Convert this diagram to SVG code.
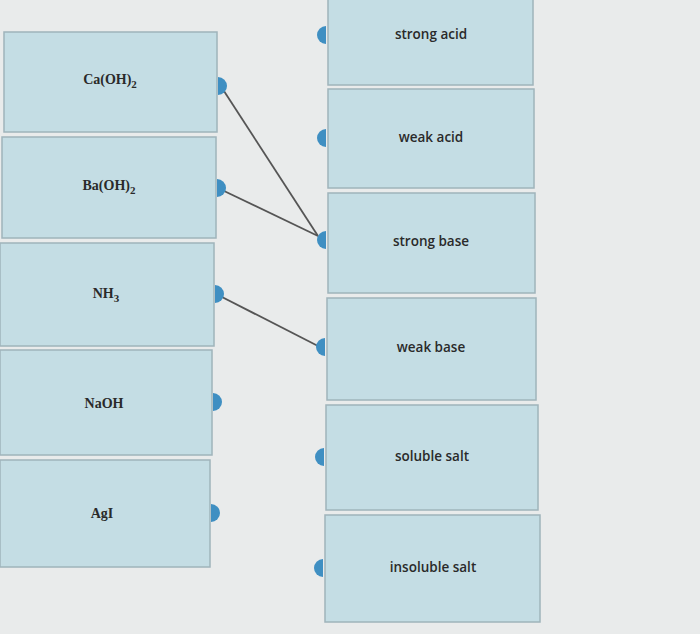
<svg xmlns="http://www.w3.org/2000/svg" width="700" height="634" viewBox="0 0 700 634">
<style>
.b{fill:#c4dde4;stroke:#9fb4bb;stroke-width:1.5}
.t{font-family:"Liberation Serif",serif;font-size:14px;fill:#2a2a2a;text-anchor:middle;font-weight:bold}
.r{font-family:"Open Sans","Liberation Sans",sans-serif;font-size:13.5px;fill:#2a2a2a;text-anchor:middle;font-weight:600}
.k{fill:#3f8fc2}
</style>
<rect width="700" height="634" fill="#e9ebeb"/>
<g id="connectors" stroke="#555" stroke-width="1.8" fill="none">
<line x1="222" y1="88" x2="318" y2="236"/>
<line x1="222" y1="190" x2="318" y2="236"/>
<line x1="220" y1="296" x2="318" y2="346"/>
</g>
<g id="l1"><rect class="b" x="4" y="32" width="213" height="100"/><text class="t" x="110" y="84">Ca(OH)<tspan font-size="11" dy="4">2</tspan></text><path class="k" d="M218,77 a9,9 0 0 1 0,18z"/></g>
<g id="l2"><rect class="b" x="2" y="137" width="214" height="101"/><text class="t" x="109" y="190">Ba(OH)<tspan font-size="11" dy="4">2</tspan></text><path class="k" d="M217,179 a9,9 0 0 1 0,18z"/></g>
<g id="l3"><rect class="b" x="0" y="243" width="214" height="103"/><text class="t" x="106" y="298">NH<tspan font-size="11" dy="4">3</tspan></text><path class="k" d="M215,285 a9,9 0 0 1 0,18z"/></g>
<g id="l4"><rect class="b" x="0" y="350" width="212" height="105"/><text class="t" x="104" y="408">NaOH</text><path class="k" d="M213,393 a9,9 0 0 1 0,18z"/></g>
<g id="l5"><rect class="b" x="0" y="460" width="210" height="107"/><text class="t" x="102" y="518">AgI</text><path class="k" d="M211,504 a9,9 0 0 1 0,18z"/></g>
<g id="r1"><rect class="b" x="328" y="-2" width="205" height="87"/><text class="r" x="431" y="39">strong acid</text><path class="k" d="M326,26 a9,9 0 0 0 0,18z"/></g>
<g id="r2"><rect class="b" x="328" y="89" width="206" height="99"/><text class="r" x="431" y="142">weak acid</text><path class="k" d="M326,129 a9,9 0 0 0 0,18z"/></g>
<g id="r3"><rect class="b" x="328" y="193" width="207" height="100"/><text class="r" x="431" y="246">strong base</text><path class="k" d="M326,231 a9,9 0 0 0 0,18z"/></g>
<g id="r4"><rect class="b" x="327" y="298" width="209" height="102"/><text class="r" x="431" y="352">weak base</text><path class="k" d="M325,338 a9,9 0 0 0 0,18z"/></g>
<g id="r5"><rect class="b" x="326" y="405" width="212" height="105"/><text class="r" x="432" y="461">soluble salt</text><path class="k" d="M324,448 a9,9 0 0 0 0,18z"/></g>
<g id="r6"><rect class="b" x="325" y="515" width="215" height="107"/><text class="r" x="433" y="572">insoluble salt</text><path class="k" d="M323,559 a9,9 0 0 0 0,18z"/></g>
</svg>
